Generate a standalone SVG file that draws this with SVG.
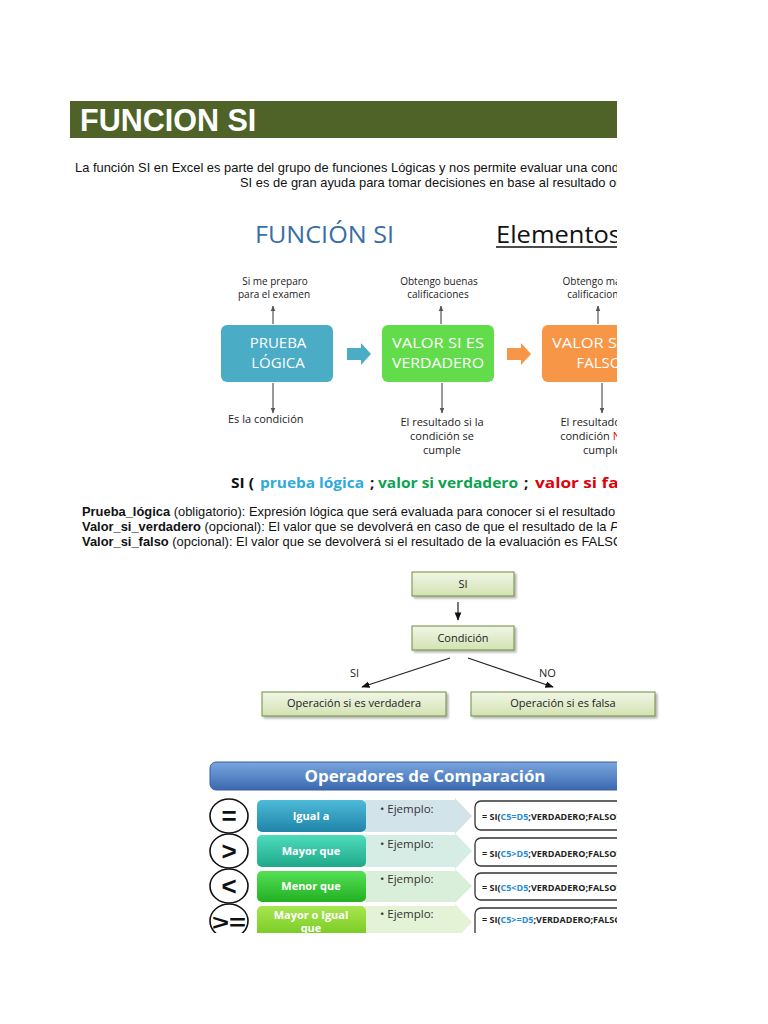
<svg xmlns="http://www.w3.org/2000/svg" width="768" height="1024" viewBox="0 0 768 1024">
<style>
.ar{font-family:"Liberation Sans",Arial,sans-serif;font-size:12.9px;fill:#111}
.cal{font-family:"Open Sans","Noto Sans",sans-serif}
.small{font-size:10px;fill:#222}
.lbl{font-size:11px;fill:#222}
.boxt{font-size:15px;fill:#fff}
.fc{fill:url(#gGreen);stroke:#6f8c3e;stroke-width:1}
.fct{font-family:"Open Sans","Noto Sans",sans-serif;font-size:11px;fill:#222}
.thin{stroke:#555;stroke-width:1.2;fill:none}
.blk{stroke:#222;stroke-width:1.2;fill:none}
.circ{fill:#fff;stroke:#111;stroke-width:1.6}
.sym{font-family:"Liberation Sans",Arial,sans-serif;font-weight:bold;fill:#111}
.opt{font-family:"Open Sans","Noto Sans",sans-serif;font-weight:bold;font-size:11px;fill:#fff}
.ej{font-family:"Open Sans","Noto Sans",sans-serif;font-size:11.5px;fill:#333}
.fbox{fill:#fff;stroke:#333;stroke-width:1.3}
.fx{font-family:"Open Sans","Noto Sans",sans-serif;font-weight:bold;font-size:9px;fill:#222}
.c5{fill:#2b8bd6}
</style>
<defs>
<clipPath id="clipR"><rect x="0" y="0" width="617" height="1024"/></clipPath>
<clipPath id="clipB"><rect x="0" y="0" width="617" height="933"/></clipPath>
<marker id="ah" viewBox="0 0 10 10" refX="9" refY="5" markerWidth="5" markerHeight="5" orient="auto-start-reverse"><path d="M0,1 L10,5 L0,9 Z" fill="#555"/></marker>
<marker id="ahk" viewBox="0 0 10 10" refX="9" refY="5" markerWidth="7" markerHeight="7" orient="auto"><path d="M0,1 L10,5 L0,9 Z" fill="#111"/></marker>
<linearGradient id="gGreen" x1="0" y1="0" x2="0" y2="1"><stop offset="0" stop-color="#f1f6e6"/><stop offset="1" stop-color="#d3e2b3"/></linearGradient>
<linearGradient id="gHead" x1="0" y1="0" x2="0" y2="1"><stop offset="0" stop-color="#7aa6de"/><stop offset="1" stop-color="#3a69b0"/></linearGradient>
<linearGradient id="g1" x1="0" y1="0" x2="0" y2="1"><stop offset="0" stop-color="#4dbad8"/><stop offset="1" stop-color="#1f84a8"/></linearGradient>
<linearGradient id="g2" x1="0" y1="0" x2="0" y2="1"><stop offset="0" stop-color="#4edcbc"/><stop offset="1" stop-color="#1fa98a"/></linearGradient>
<linearGradient id="g3" x1="0" y1="0" x2="0" y2="1"><stop offset="0" stop-color="#55e055"/><stop offset="1" stop-color="#22b022"/></linearGradient>
<linearGradient id="g4" x1="0" y1="0" x2="0" y2="1"><stop offset="0" stop-color="#a8e650"/><stop offset="1" stop-color="#74c820"/></linearGradient>
<filter id="sh" x="-10%" y="-20%" width="130%" height="160%"><feDropShadow dx="2" dy="2" stdDeviation="1.2" flood-color="#000" flood-opacity="0.3"/></filter>
</defs>
<rect width="768" height="1024" fill="#fff"/>

<!-- Title -->
<g id="title" clip-path="url(#clipR)">
<rect x="70" y="101" width="547" height="37" fill="#4f6228"/>
<text x="80" y="131" font-family="Liberation Sans,Arial,sans-serif" font-weight="bold" font-size="30.5" fill="#fff">FUNCION SI</text>
</g>

<!-- Intro paragraph -->
<g id="intro" clip-path="url(#clipR)">
<text class="ar" x="75" y="172">La función SI en Excel es parte del grupo de funciones Lógicas y nos permite evaluar una condición</text>
<text class="ar" x="240" y="187">SI es de gran ayuda para tomar decisiones en base al resultado obtenido</text>
</g>

<!-- Image 1: Funcion SI elementos -->
<g id="img1" clip-path="url(#clipR)">
<text class="cal" x="255" y="243" font-size="24" fill="#3a6fa6" textLength="139" lengthAdjust="spacingAndGlyphs">FUNCIÓN SI</text>
<text class="cal" x="496" y="243" font-size="24" fill="#111" textLength="125" lengthAdjust="spacingAndGlyphs">Elementos</text>
<line x1="496" y1="247" x2="640" y2="247" stroke="#111" stroke-width="1.5"/>

<g id="lbl-preparo"><text class="cal small" x="275" y="285" text-anchor="middle">Si me preparo</text><text class="cal small" x="274" y="298" text-anchor="middle">para el examen</text></g>
<g id="lbl-buenas"><text class="cal small" x="439" y="285" text-anchor="middle">Obtengo buenas</text><text class="cal small" x="438" y="298" text-anchor="middle">calificaciones</text></g>
<g id="lbl-malas"><text class="cal small" x="598" y="285" text-anchor="middle">Obtengo malas</text><text class="cal small" x="598" y="298" text-anchor="middle">calificaciones</text></g>

<g id="box-prueba"><rect x="221" y="325" width="112" height="57" rx="6" fill="#4bacc6"/>
<text class="cal boxt" x="278" y="348" text-anchor="middle">PRUEBA</text><text class="cal boxt" x="278" y="368" text-anchor="middle">LÓGICA</text></g>
<g id="box-verdadero"><rect x="382" y="325" width="112" height="57" rx="6" fill="#62dc4b"/>
<text class="cal boxt" x="438" y="348" text-anchor="middle" textLength="92" lengthAdjust="spacingAndGlyphs">VALOR SI ES</text><text class="cal boxt" x="438" y="368" text-anchor="middle" textLength="92" lengthAdjust="spacingAndGlyphs">VERDADERO</text></g>
<g id="box-falso"><rect x="542" y="325" width="112" height="57" rx="6" fill="#f79646"/>
<text class="cal boxt" x="598" y="348" text-anchor="middle" textLength="92" lengthAdjust="spacingAndGlyphs">VALOR SI ES</text><text class="cal boxt" x="599" y="368" text-anchor="middle">FALSO</text></g>

<g id="lbl-condicion"><text class="cal lbl" x="228" y="423">Es la condición</text></g>
<g id="lbl-cumple"><text class="cal lbl" x="442" y="426" text-anchor="middle">El resultado si la</text><text class="cal lbl" x="442" y="440" text-anchor="middle">condición se</text><text class="cal lbl" x="442" y="454" text-anchor="middle">cumple</text></g>
<g id="lbl-nocumple"><text class="cal lbl" x="602" y="426" text-anchor="middle">El resultado si la</text><text class="cal lbl" x="602" y="440" text-anchor="middle">condición <tspan fill="#e00000">NO</tspan> se</text><text class="cal lbl" x="602" y="454" text-anchor="middle">cumple</text></g>

<g id="connectors1">
<line class="thin" x1="273" y1="324" x2="273" y2="306" marker-end="url(#ah)"/>
<line class="thin" x1="441" y1="324" x2="441" y2="306" marker-end="url(#ah)"/>
<line class="thin" x1="598" y1="324" x2="598" y2="306" marker-end="url(#ah)"/>
<line class="thin" x1="273" y1="383" x2="273" y2="413" marker-end="url(#ah)"/>
<line class="thin" x1="442" y1="383" x2="442" y2="413" marker-end="url(#ah)"/>
<line class="thin" x1="602" y1="383" x2="602" y2="413" marker-end="url(#ah)"/>
<path d="M347,348 L361,348 L361,343 L371,354 L361,365 L361,360 L347,360 Z" fill="#4bacc6"/>
<path d="M507,348 L521,348 L521,343 L531,354 L521,365 L521,360 L507,360 Z" fill="#f79646"/>
</g>

<g id="formula-line">
<text class="cal" x="231" y="488" font-size="15" font-weight="bold" fill="#111" textLength="23" lengthAdjust="spacingAndGlyphs">SI (</text>
<text class="cal" x="260" y="488" font-size="15" font-weight="bold" fill="#2eaadc" textLength="104" lengthAdjust="spacingAndGlyphs">prueba lógica</text>
<text class="cal" x="370" y="488" font-size="15" font-weight="bold" fill="#111">;</text>
<text class="cal" x="378" y="488" font-size="15" font-weight="bold" fill="#0aa350" textLength="140" lengthAdjust="spacingAndGlyphs">valor si verdadero</text>
<text class="cal" x="524" y="488" font-size="15" font-weight="bold" fill="#111">;</text>
<text class="cal" x="535" y="488" font-size="15" font-weight="bold" fill="#e0000b" textLength="108" lengthAdjust="spacingAndGlyphs">valor si falso</text>
</g>
</g>

<!-- Definitions -->
<g id="definitions" clip-path="url(#clipR)">
<text class="ar" x="82" y="516"><tspan font-weight="bold">Prueba_lógica</tspan> (obligatorio): Expresión lógica que será evaluada para conocer si el resultado es</text>
<text class="ar" x="82" y="531"><tspan font-weight="bold">Valor_si_verdadero</tspan> (opcional): El valor que se devolverá en caso de que el resultado de la <tspan font-style="italic">Prueba</tspan></text>
<text class="ar" x="82" y="546"><tspan font-weight="bold">Valor_si_falso</tspan> (opcional): El valor que se devolverá si el resultado de la evaluación es FALSO.</text>
</g>

<!-- Flowchart 2 -->
<g id="fc-si"><rect class="fc" x="412" y="572" width="102" height="24" filter="url(#sh)"/>
<text class="fct" x="463" y="588" text-anchor="middle" font-size="10">SI</text></g>
<g id="fc-condicion"><rect class="fc" x="412" y="626" width="102" height="24" filter="url(#sh)"/>
<text class="fct" x="463" y="642" text-anchor="middle">Condición</text></g>
<g id="fc-verdadera"><rect class="fc" x="262" y="692" width="184" height="24" filter="url(#sh)"/>
<text class="fct" x="354" y="707" text-anchor="middle">Operación si es verdadera</text></g>
<g id="fc-falsa"><rect class="fc" x="471" y="692" width="184" height="24" filter="url(#sh)"/>
<text class="fct" x="563" y="707" text-anchor="middle">Operación si es falsa</text></g>
<g id="connectors2">
<line class="blk" x1="458" y1="602" x2="458" y2="620" marker-end="url(#ahk)"/>
<line class="blk" x1="450" y1="658" x2="362" y2="687" stroke="#444" marker-end="url(#ahk)"/>
<line class="blk" x1="468" y1="658" x2="553" y2="687" stroke="#444" marker-end="url(#ahk)"/>
<text class="fct" x="350" y="677">SI</text>
<text class="fct" x="539" y="677">NO</text>
</g>

<!-- Image 3: Operadores de comparacion -->
<g id="img3" clip-path="url(#clipB)">
<g id="op-header"><rect x="210" y="762" width="440" height="28" rx="6" fill="url(#gHead)" stroke="#3a5f9a"/>
<text class="cal" x="425" y="782" text-anchor="middle" font-size="16" font-weight="bold" fill="#fff" textLength="241" lengthAdjust="spacingAndGlyphs">Operadores de Comparación</text></g>

<g id="op-igual">
<ellipse class="circ" cx="229" cy="816" rx="19" ry="17"/>
<text class="sym" x="229" y="825" text-anchor="middle" font-size="26">=</text>
<path d="M365,800 L455,800 L455,798 L472,816 L455,834 L455,832 L365,832 Z" fill="#d3e3ea"/>
<rect x="257" y="800" width="109" height="32" rx="5" fill="url(#g1)"/>
<text class="opt" x="311" y="820" text-anchor="middle">Igual a</text>
<text class="ej" x="380" y="813">• Ejemplo:</text>
<rect class="fbox" x="475" y="801" width="170" height="29" rx="6"/>
<text class="fx" x="482" y="820">= SI(<tspan class="c5">C5=D5</tspan>;VERDADERO;FALSO)</text>
</g>

<g id="op-mayor">
<ellipse class="circ" cx="229" cy="851" rx="19" ry="17"/>
<text class="sym" x="229" y="860" text-anchor="middle" font-size="26">&gt;</text>
<path d="M365,835 L455,835 L455,833 L472,851 L455,869 L455,867 L365,867 Z" fill="#d6ede5"/>
<rect x="257" y="835" width="109" height="32" rx="5" fill="url(#g2)"/>
<text class="opt" x="311" y="855" text-anchor="middle">Mayor que</text>
<text class="ej" x="380" y="848">• Ejemplo:</text>
<rect class="fbox" x="475" y="838" width="170" height="28" rx="6"/>
<text class="fx" x="482" y="857">= SI(<tspan class="c5">C5&gt;D5</tspan>;VERDADERO;FALSO)</text>
</g>

<g id="op-menor">
<ellipse class="circ" cx="229" cy="886" rx="19" ry="17"/>
<text class="sym" x="229" y="895" text-anchor="middle" font-size="26">&lt;</text>
<path d="M365,871 L455,871 L455,869 L472,886 L455,903 L455,902 L365,902 Z" fill="#daefda"/>
<rect x="257" y="871" width="109" height="31" rx="5" fill="url(#g3)"/>
<text class="opt" x="311" y="890" text-anchor="middle">Menor que</text>
<text class="ej" x="380" y="883">• Ejemplo:</text>
<rect class="fbox" x="475" y="873" width="170" height="27" rx="6"/>
<text class="fx" x="482" y="891">= SI(<tspan class="c5">C5&lt;D5</tspan>;VERDADERO;FALSO)</text>
</g>

<g id="op-mayorigual">
<ellipse class="circ" cx="229" cy="921" rx="19" ry="17"/>
<text class="sym" x="229" y="930" text-anchor="middle" font-size="22" textLength="34" lengthAdjust="spacingAndGlyphs">&gt;=</text>
<path d="M365,906 L455,906 L455,904 L472,922 L455,940 L455,938 L365,938 Z" fill="#e4f2d6"/>
<rect x="257" y="906" width="109" height="32" rx="5" fill="url(#g4)"/>
<text class="opt" x="311" y="919" text-anchor="middle">Mayor o Igual</text>
<text class="opt" x="311" y="932" text-anchor="middle">que</text>
<text class="ej" x="380" y="918">• Ejemplo:</text>
<rect class="fbox" x="475" y="908" width="170" height="30" rx="6"/>
<text class="fx" x="482" y="923">= SI(<tspan class="c5">C5&gt;=D5</tspan>;VERDADERO;FALSO)</text>
</g>
</g>
</svg>
